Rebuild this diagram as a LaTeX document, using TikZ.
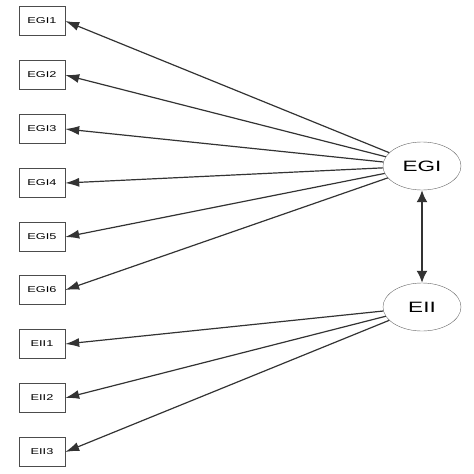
\documentclass[tikz,border=0pt]{standalone}
\usepackage{fontspec}
\setmainfont{Liberation Sans}
\newfontfamily\widesans[FakeStretch=1.5]{Liberation Sans}
\usetikzlibrary{arrows.meta,shapes.geometric}

\tikzset{
  obs/.style={draw=black!70, minimum width=46pt, minimum height=29pt, inner sep=0pt,
    font=\widesans\fontsize{8.5}{9}\selectfont},
  lat/.style={draw=black!60, ellipse, minimum width=78pt, minimum height=48pt, inner sep=0pt,
    font=\widesans\fontsize{15}{15}\selectfont},
  load/.style={-{Latex[length=14pt,width=9pt]}, draw=black!80, line width=1.2pt}
}

\begin{document}
\begin{tikzpicture}[x=1pt, y=-1pt]
    \useasboundingbox (0,0) rectangle (474,474);

    % indicators
    \foreach \i/\y in {1/21, 2/75, 3/129, 4/183, 5/237, 6/290}
        \node[obs] (EGI\i) at (42,\y) {EGI\i};
    \foreach \i/\y in {1/344, 2/398, 3/452}
        \node[obs] (EII\i) at (42,\y) {EII\i};

    % latent factors
    \node[lat] (EGI) at (422,166) {EGI};
    \node[lat] (EII) at (422,307) {EII};

    \foreach \i in {1,...,6}
        \draw[load] (EGI) -- (EGI\i.east);
    \foreach \i in {1,...,3}
        \draw[load] (EII) -- (EII\i.east);

    \draw[load, line width=1.8pt, {Latex[length=12pt,width=11pt]}-{Latex[length=12pt,width=11pt]}] (EGI) -- (EII);
\end{tikzpicture}
\end{document}
